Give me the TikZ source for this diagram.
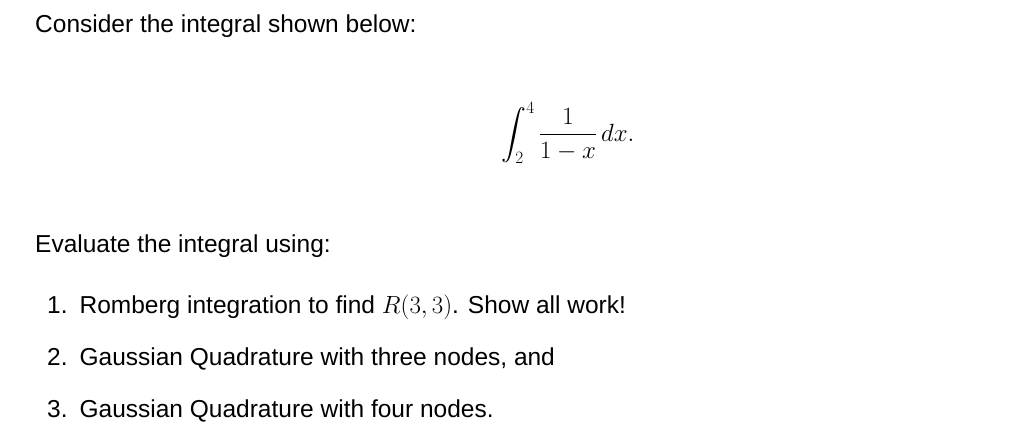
\documentclass[tikz,border=0pt]{standalone}
\usepackage{amsmath}
\usepackage{fontspec}
\setmainfont{Liberation Sans}
\begin{document}
\begin{tikzpicture}[x=1pt,y=-1pt,txt/.style={anchor=base west,inner sep=0pt,font=\fontsize{24.5}{30}\selectfont}]
\useasboundingbox (0,0) rectangle (1024,436);
\node[txt] (t1) at (35,33) {Consider the integral shown below:};
\node[inner sep=0pt,font=\fontsize{26}{32}\selectfont] (int) at (568,133) {$\displaystyle\int_2^4 \frac{1}{1-x}\,dx.$};
\node[txt] (t2) at (35,252) {Evaluate the integral using:};
\node[txt] (l1) at (47,313) {1.\hspace{12pt}Romberg integration to find $R(3,3)$. Show all work!};
\node[txt] (l2) at (47,365) {2.\hspace{12pt}Gaussian Quadrature with three nodes, and};
\node[txt] (l3) at (47,417) {3.\hspace{12pt}Gaussian Quadrature with four nodes.};
\end{tikzpicture}
\end{document}
